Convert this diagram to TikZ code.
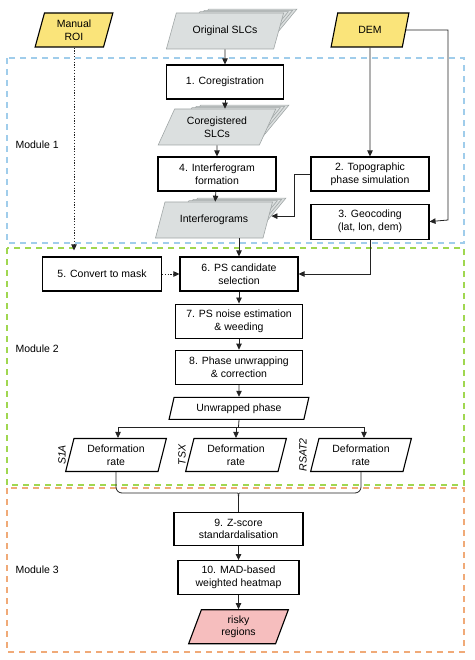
\documentclass[tikz,border=0pt]{standalone}
\usepackage{fontspec}
\setmainfont{Liberation Sans}
\usetikzlibrary{shapes.geometric,arrows.meta,positioning,calc,backgrounds}

\definecolor{inyellow}{RGB}{250,228,122}
\definecolor{riskpink}{RGB}{246,190,190}
\definecolor{stackfill}{RGB}{219,223,223}
\definecolor{stackedge}{RGB}{160,166,166}
\definecolor{linkgray}{RGB}{35,35,35}
\definecolor{modblue}{RGB}{160,205,235}
\definecolor{modgreen}{RGB}{160,215,80}
\definecolor{modorange}{RGB}{240,170,120}

\begin{document}
\begin{tikzpicture}[x=1pt,y=-1pt,>={Triangle[length=6pt,width=5.5pt]},
  font=\fontsize{10.5}{12.7}\selectfont,align=center,
  proc/.style={rectangle,draw,line width=1.1pt,minimum height=34pt,inner sep=2pt},
  data/.style={trapezium,trapezium left angle=76,trapezium right angle=104,trapezium stretches=true,draw,line width=1.1pt,minimum height=34pt,inner sep=2pt},
  input/.style={data,fill=inyellow},
  stack/.style={trapezium,trapezium left angle=63,trapezium right angle=117,trapezium stretches=true,fill=stackfill,draw=stackedge,line width=0.6pt,minimum width=118pt,minimum height=36pt,inner sep=2pt},
  link/.style={->,line width=0.8pt,draw=linkgray},
  dots/.style={link,dash pattern=on 1.2pt off 1.6pt},
  module/.style={dash pattern=on 6pt off 5pt,line width=1.1pt},
  sat/.style={rotate=90,font=\fontsize{10.5}{12.7}\selectfont\itshape}]
  \useasboundingbox (0,0) rectangle (474,660);

  % module frames
  \draw[module,modblue] (7,58) rectangle (464,243);
  \draw[module,modgreen] (7,248) rectangle (464,485);
  \draw[module,modorange] (7,488) rectangle (464,652);
  \node[anchor=west] at (12,145) {Module 1};
  \node[anchor=west] at (12,349) {Module 2};
  \node[anchor=west] at (12,570) {Module 3};

  % inputs
  \node[input,minimum width=78pt] (roi) at (74,30) {Manual\\ROI};
  \node[stack] (orig) at (225,31) {Original SLCs};
  \node[input,minimum width=78pt] (dem) at (370,30) {DEM};

  % module 1
  \node[proc,minimum width=117pt] (coreg) at (225,82) {1. Coregistration};
  \node[stack] (cosl) at (217,127) {Coregistered\\SLCs};
  \node[proc,minimum width=118pt] (form) at (217,174) {4. Interferogram\\formation};
  \node[stack] (ifg) at (214,220) {Interferograms};
  \node[proc,minimum width=118pt] (topo) at (370,174) {2. Topographic\\phase simulation};
  \node[proc,minimum width=118pt,minimum height=35pt] (geo) [below=12pt of topo] {3. Geocoding\\(lat, lon, dem)};

  \begin{scope}[on background layer]
    \foreach \n in {orig,cosl,ifg}
      \foreach \s in {3,2,1}
        \node[stack] (\n-\s) at ([shift={(4.3*\s,-1.3*\s)}]\n.center) {};
  \end{scope}

  % module 2
  \node[proc,minimum width=119pt] (mask) at (102,274) {5. Convert to mask};
  \node[proc,minimum width=118pt] (cand) at (239,274) {6. PS candidate\\selection};
  \node[proc,minimum width=127pt] (noise) [below=12pt of cand] {7. PS noise estimation\\\& weeding};
  \node[proc,minimum width=127pt] (unwr) [below=11pt of noise] {8. Phase unwrapping\\\& correction};
  \node[data,minimum width=140pt,minimum height=22pt] (uphase) [below=12pt of unwr] {Unwrapped phase};
  \node[data,minimum width=101pt,minimum height=33pt] (def1) at (116,455) {Deformation\\rate};
  \node[data,minimum width=101pt,minimum height=33pt] (def2) at (236,455) {Deformation\\rate};
  \node[data,minimum width=101pt,minimum height=33pt] (def3) at (361,455) {Deformation\\rate};
  \node[sat] at (62,455) {S1A};
  \node[sat] at (182,455) {TSX};
  \node[sat] at (303,455) {RSAT2};

  % module 3
  \node[proc,minimum width=129pt,minimum height=33pt] (zsc) at (238.5,529) {9. Z-score\\standardalisation};
  \node[proc,minimum width=121pt] (mad) [below=14pt of zsc] {10. MAD-based\\weighted heatmap};
  \node[data,fill=riskpink,minimum width=100pt] (risk) [below=14pt of mad] {risky\\regions};

  \coordinate (dembend) at (448,220);
  \coordinate (split) at (238.5,427);
  \coordinate (brace) at (238.5,493);

  % connectors
  \draw[link] (orig) -- (coreg);
  \draw[link] (coreg.south) -- (coreg.south |- cosl.north);
  \draw[link] (cosl) -- (form);
  \draw[link] (form) -- (ifg);
  \draw[link] (dem) -- (topo);
  \draw[link] (dem.east) -| (dembend) -- (geo.east);
  \draw[link] (topo.west) -- ++(-16,0) |- (ifg-3.east);
  \draw[dots,shorten >=6pt] (roi.south) -- (roi.south |- mask.north);
  \draw[dots] (mask) -- (cand);
  \draw[link] (cand.north |- ifg.south) -- (cand.north);
  \draw[link] (geo.south) |- (cand.east);
  \draw[link] (cand) -- (noise);
  \draw[link] (noise) -- (unwr);
  \draw[link] (unwr) -- (uphase);
  \draw[line width=0.8pt,draw=linkgray] (uphase.south) -- (split);
  \draw[link] (split) -| ([xshift=2pt]def1.north);
  \draw[link] (split) -- (split -| def2.north) -- (def2.north);
  \draw[link] (split) -| ([xshift=3pt]def3.north);
  \draw[line width=0.8pt,draw=linkgray,rounded corners=6pt]
    (def1.south) |- ([xshift=-7pt]brace) .. controls (brace) .. (zsc.north);
  \draw[line width=0.8pt,draw=linkgray,rounded corners=6pt]
    (def3.south) |- ([xshift=7pt]brace) .. controls (brace) .. (zsc.north);
  \draw[link] (zsc) -- (mad);
  \draw[link] (mad) -- (risk);
\end{tikzpicture}
\end{document}
